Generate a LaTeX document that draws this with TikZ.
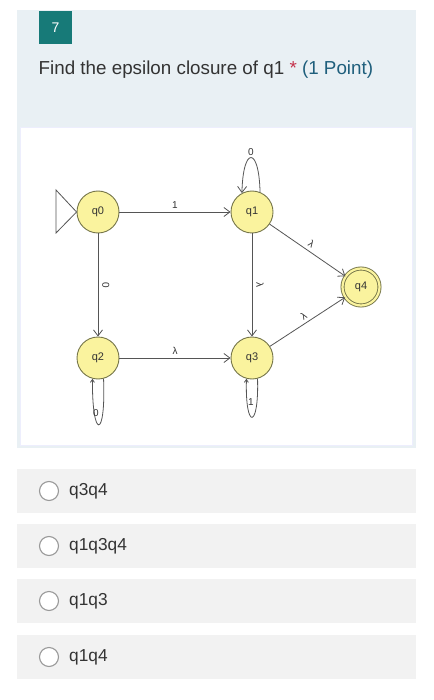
\documentclass[tikz,border=0pt]{standalone}
\usepackage{fontspec}
\setmainfont{Liberation Sans}
\usetikzlibrary{arrows.meta}
\definecolor{panel}{HTML}{E9F0F4}
\definecolor{teal7}{HTML}{177A78}
\definecolor{txt}{HTML}{333333}
\definecolor{star}{HTML}{C4314B}
\definecolor{pt}{HTML}{1F5F7C}
\definecolor{optbg}{HTML}{F2F2F2}
\definecolor{nodefill}{HTML}{FAF39E}
\definecolor{nodedraw}{HTML}{76764A}
\definecolor{edge}{HTML}{555555}
\tikzset{
  state/.style={circle,draw=nodedraw,fill=nodefill,line width=0.9pt,minimum size=42pt,inner sep=0pt,font=\fontsize{11}{13}\selectfont,text=txt},
  accept/.style={state,double=nodefill,double distance=2.2pt,minimum size=37pt},
  trans/.style={draw=edge,line width=0.8pt,-{Straight Barb[length=6pt,width=9pt]}},
  elabel/.style={font=\fontsize{10}{11}\selectfont,text=txt,inner sep=1pt},
  optbox/.style={fill=optbg,draw=none},
  radio/.style={circle,draw=gray!80,line width=1.1pt,fill=white,minimum size=19pt,inner sep=0pt},
  opttext/.style={anchor=west,font=\fontsize{17.3}{20}\selectfont,text=txt,inner sep=0pt}
}
\begin{document}
\begin{tikzpicture}[x=1pt,y=-1pt]
\useasboundingbox (0,0) rectangle (433,700);
\fill[white] (0,0) rectangle (433,700);
% question panel
\fill[panel] (17,10) rectangle (416,448);
\fill[white] (20,127) rectangle (413,446);
\draw[panel!70!blue!20!white,line width=1pt] (20.5,127.5) rectangle (412.5,445.5);
\node[fill=teal7,minimum width=33pt,minimum height=33pt,inner sep=0pt,text=white,font=\fontsize{14}{16}\selectfont] (num) at (55.5,27.5) {7};
\node[anchor=base west,inner sep=0pt,font=\fontsize{18.8}{22}\selectfont,text=txt] (title) at (38.5,75) {Find the epsilon closure of q1 \textcolor{star}{*} \textcolor{pt}{(1 Point)}};
% automaton
\node[state] (q0) at (98,212) {q0};
\node[state] (q1) at (252,212) {q1};
\node[state] (q2) at (98,358) {q2};
\node[state] (q3) at (252,358) {q3};
\node[accept] (q4) at (361,287) {q4};
\coordinate (ia) at (56,190);
\coordinate (ib) at (56,233);
\draw[edge,line width=0.8pt,line join=miter] (ia) -- (q0.west) -- (ib) -- cycle;
\draw[trans] (q0) -- node[elabel,above=2pt] {1} (q1);
\draw[trans] (q0) -- node[elabel,sloped,above=3pt] {0} (q2);
\draw[trans] (q1) -- node[elabel,sloped,above=3pt] {λ} (q3);
\draw[trans] (q2) -- node[elabel,above=2pt] {λ} (q3);
\draw[trans] (q1) -- node[elabel,sloped,above=2pt] {λ} (q4);
\draw[trans] (q3) -- node[elabel,sloped,above=2pt] {λ} (q4);
\draw[trans] (q1.68) .. controls (259,146) and (243,146) .. (q1.118);
\node[elabel] (l1) at (251,152) {0};
\draw[trans,-{Straight Barb[length=3pt,width=4pt]}] (q2.-75) .. controls (106,440) and (92,440) .. (q2.-105);
\node[elabel] (l2) at (96,413) {0};
\draw[trans,-{Straight Barb[length=3pt,width=4pt]}] (q3.-75) .. controls (259,430) and (245,430) .. (q3.-105);
\node[elabel] (l3) at (251,402) {1};
% options
\foreach \y/\t [count=\i] in {491/q3q4,546/q1q3q4,601/q1q3,657/q1q4}{
  \fill[optbg] (17,\y-22) rectangle (416,\y+22);
  \node[radio] (r\i) at (49,\y) {};
  \node[opttext] (o\i) at (69,\y) {\t};
}
\end{tikzpicture}
\end{document}
